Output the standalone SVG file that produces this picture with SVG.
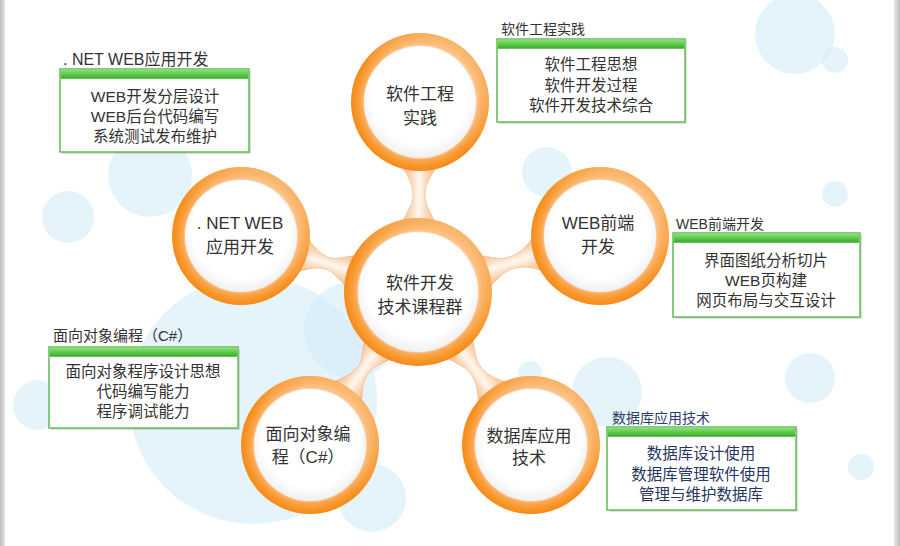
<svg xmlns="http://www.w3.org/2000/svg" width="900" height="546" viewBox="0 0 900 546">
<defs>
<style>
.bub{fill:#d3ebf8;opacity:.6}
.ntxt{font-family:"Liberation Sans","Noto Sans CJK SC",sans-serif;font-size:17px;fill:#333;text-anchor:middle}
.btxt{font-family:"Liberation Sans","Noto Sans CJK SC",sans-serif;font-size:15.5px;fill:#333;text-anchor:middle}
.ttl{font-family:"Liberation Sans","Noto Sans CJK SC",sans-serif;font-size:14px;fill:#333}
.box{fill:#fff;stroke:#5fbd50;stroke-width:1.5}
.shadow{fill:#000;opacity:.12}
.hdr{fill:url(#hdr)}
.ring{fill:url(#ring)}
.shine{fill:url(#shine)}
.inner{fill:url(#inner)}
.neck{fill:url(#neck);stroke:#f1b07a;stroke-width:.6}
</style>
<radialGradient id="ring" cx=".5" cy=".5" r=".5">
<stop offset=".80" stop-color="#fddbb8"/>
<stop offset=".835" stop-color="#fbab5c"/>
<stop offset=".9" stop-color="#f99b33"/>
<stop offset="1" stop-color="#f58a17"/>
</radialGradient>
<linearGradient id="shine" x1=".85" y1=".05" x2=".45" y2=".55">
<stop offset="0" stop-color="#fff" stop-opacity=".4"/>
<stop offset="1" stop-color="#fff" stop-opacity="0"/>
</linearGradient>
<radialGradient id="inner" cx=".5" cy=".45" r=".55">
<stop offset=".78" stop-color="#fff"/>
<stop offset="1" stop-color="#f0f0f0"/>
</radialGradient>
<linearGradient id="neck" gradientUnits="userSpaceOnUse" x1="0" y1="-20" x2="0" y2="20">
<stop offset="0" stop-color="#f2b175"/>
<stop offset=".3" stop-color="#fbd9bb"/>
<stop offset=".5" stop-color="#fff7ef"/>
<stop offset=".7" stop-color="#fad7b8"/>
<stop offset="1" stop-color="#f2b175"/>
</linearGradient>
<linearGradient id="hdr" x1="0" y1="0" x2="0" y2="1">
<stop offset="0" stop-color="#8ee07a"/>
<stop offset=".5" stop-color="#5cc94a"/>
<stop offset="1" stop-color="#3aa82b"/>
</linearGradient>
<linearGradient id="edge" x1="0" y1="0" x2="1" y2="0">
<stop offset="0" stop-color="#bdbdbd"/>
<stop offset="1" stop-color="#e6e6e6"/>
</linearGradient>
</defs>

<rect width="900" height="546" fill="#fff"/>
<rect x="0" y="0" width="5" height="546" fill="url(#edge)"/>
<rect x="894" y="0" width="6" height="546" fill="url(#edge)" transform="rotate(180 897 273)"/>

<g id="bubbles">
<circle class="bub" cx="795" cy="34" r="40"/>
<circle class="bub" cx="835" cy="60" r="13"/>
<circle class="bub" cx="835" cy="194" r="13"/>
<circle class="bub" cx="547" cy="172" r="25"/>
<circle class="bub" cx="810" cy="378" r="25"/>
<circle class="bub" cx="607" cy="392" r="35"/>
<circle class="bub" cx="530" cy="373" r="12"/>
<circle class="bub" cx="861" cy="467" r="13"/>
<circle class="bub" cx="150" cy="175" r="42"/>
<circle class="bub" cx="68" cy="217" r="26"/>
<circle class="bub" cx="253" cy="400" r="124"/>
<circle class="bub" cx="352" cy="330" r="48"/>
<circle class="bub" cx="372" cy="498" r="34"/>
<circle class="bub" cx="38" cy="405" r="25"/>
</g>

<g id="connectors">
<path class="neck" transform="translate(418,292) rotate(-89.4)" d="M60,-20 C78,-14 86,-6 96,-6 C110,-6 116,-12 130,-20 L130,20 C116,12 110,6 96,6 C86,6 78,14 60,20 Z"/>
<path class="neck" transform="translate(418,292) rotate(-17.4)" d="M60,-20 C78,-14 86,-6 96,-6 C111,-6 117,-12 131,-20 L131,20 C117,12 111,6 96,6 C86,6 78,14 60,20 Z"/>
<path class="neck" transform="translate(418,292) rotate(197.6)" d="M60,-20 C78,-14 86,-6 94,-6 C106,-6 112,-12 126,-20 L126,20 C112,12 106,6 94,6 C86,6 78,14 60,20 Z"/>
<path class="neck" transform="translate(418,292) rotate(125.2)" d="M60,-20 C78,-14 86,-6 94,-6 C107,-6 113,-12 127,-20 L127,20 C113,12 107,6 94,6 C86,6 78,14 60,20 Z"/>
<path class="neck" transform="translate(418,292) rotate(53.6)" d="M60,-20 C78,-14 86,-6 96,-6 C110,-6 116,-12 130,-20 L130,20 C116,12 110,6 96,6 C86,6 78,14 60,20 Z"/>
</g>

<g id="node-center">
<circle class="ring" cx="418" cy="292" r="74"/>
<circle class="shine" cx="418" cy="292" r="74"/>
<circle class="inner" cx="418" cy="292" r="60"/>
<text class="ntxt" x="420" y="289">软件开发</text>
<text class="ntxt" x="420" y="313">技术课程群</text>
</g>

<g id="node-se">
<circle class="ring" cx="420" cy="102" r="69"/>
<circle class="shine" cx="420" cy="102" r="69"/>
<circle class="inner" cx="420" cy="102" r="56"/>
<text class="ntxt" x="420" y="100">软件工程</text>
<text class="ntxt" x="420" y="124">实践</text>
</g>

<g id="node-web">
<circle class="ring" cx="600" cy="236" r="69"/>
<circle class="shine" cx="600" cy="236" r="69"/>
<circle class="inner" cx="600" cy="236" r="56"/>
<text class="ntxt" x="598" y="229">WEB前端</text>
<text class="ntxt" x="598" y="253">开发</text>
</g>

<g id="node-net">
<circle class="ring" cx="241" cy="236" r="69"/>
<circle class="shine" cx="241" cy="236" r="69"/>
<circle class="inner" cx="241" cy="236" r="56"/>
<text class="ntxt" x="240" y="229">. NET WEB</text>
<text class="ntxt" x="240" y="253">应用开发</text>
</g>

<g id="node-oop">
<circle class="ring" cx="310" cy="445" r="69"/>
<circle class="shine" cx="310" cy="445" r="69"/>
<circle class="inner" cx="310" cy="445" r="56"/>
<text class="ntxt" x="308" y="440">面向对象编</text>
<text class="ntxt" x="308" y="463">程（C#）</text>
</g>

<g id="node-db">
<circle class="ring" cx="531" cy="445" r="69"/>
<circle class="shine" cx="531" cy="445" r="69"/>
<circle class="inner" cx="531" cy="445" r="56"/>
<text class="ntxt" x="529" y="442">数据库应用</text>
<text class="ntxt" x="529" y="464">技术</text>
</g>

<g id="box-net">
<text class="ttl" x="63" y="65" style="font-size:16px">. NET WEB应用开发</text>
<rect class="shadow" x="62" y="71" width="189" height="83"/>
<rect class="box" x="60" y="69" width="189" height="83"/>
<rect class="hdr" x="60.75" y="69.75" width="187.5" height="9"/>
<text class="btxt" x="155" y="102">WEB开发分层设计</text>
<text class="btxt" x="155" y="122">WEB后台代码编写</text>
<text class="btxt" x="155" y="142">系统测试发布维护</text>
</g>

<g id="box-se">
<text class="ttl" x="501" y="34">软件工程实践</text>
<rect class="shadow" x="499" y="41" width="188" height="83"/>
<rect class="box" x="497" y="39" width="188" height="83"/>
<rect class="hdr" x="497.75" y="39.75" width="186.5" height="9"/>
<text class="btxt" x="591" y="70">软件工程思想</text>
<text class="btxt" x="591" y="91">软件开发过程</text>
<text class="btxt" x="591" y="111">软件开发技术综合</text>
</g>

<g id="box-web">
<text class="ttl" x="676" y="229">WEB前端开发</text>
<rect class="shadow" x="675" y="235" width="187" height="84"/>
<rect class="box" x="673" y="233" width="187" height="84"/>
<rect class="hdr" x="673.75" y="233.75" width="185.5" height="9"/>
<text class="btxt" x="766" y="266">界面图纸分析切片</text>
<text class="btxt" x="766" y="286">WEB页构建</text>
<text class="btxt" x="766" y="306">网页布局与交互设计</text>
</g>

<g id="box-oop">
<text class="ttl" x="53" y="341" style="font-size:15px">面向对象编程（C#）</text>
<rect class="shadow" x="51" y="349" width="189" height="81"/>
<rect class="box" x="49" y="347" width="189" height="81"/>
<rect class="hdr" x="49.75" y="347.75" width="187.5" height="9"/>
<text class="btxt" x="143" y="377">面向对象程序设计思想</text>
<text class="btxt" x="143" y="397">代码编写能力</text>
<text class="btxt" x="143" y="417">程序调试能力</text>
</g>

<g id="box-db">
<text class="ttl" x="612" y="423" style="fill:#2b3d6e">数据库应用技术</text>
<rect class="shadow" x="609" y="429" width="189" height="83"/>
<rect class="box" x="607" y="427" width="189" height="83"/>
<rect class="hdr" x="607.75" y="427.75" width="187.5" height="9"/>
<text class="btxt" x="701" y="459" style="fill:#27365f">数据库设计使用</text>
<text class="btxt" x="701" y="480" style="fill:#27365f">数据库管理软件使用</text>
<text class="btxt" x="701" y="500" style="fill:#27365f">管理与维护数据库</text>
</g>
</svg>
